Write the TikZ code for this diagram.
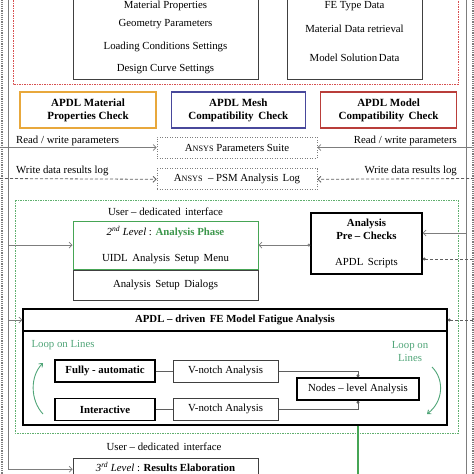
\documentclass[tikz,border=0pt]{standalone}
\usepackage{fontspec}
\setmainfont{Liberation Serif}
\usepackage{tikz}
\usetikzlibrary{arrows.meta,positioning}

\definecolor{gline}{RGB}{125,125,125}
\definecolor{dline}{RGB}{95,95,95}
\definecolor{redd}{RGB}{215,80,80}
\definecolor{gdash}{RGB}{95,175,110}
\definecolor{gbox}{RGB}{70,165,85}
\definecolor{gtext}{RGB}{60,150,75}
\definecolor{gloop}{RGB}{80,165,120}
\definecolor{chkor}{RGB}{232,168,60}
\definecolor{chkbl}{RGB}{72,72,155}
\definecolor{chkrd}{RGB}{185,62,58}

\newcommand{\ansys}{A{\fontsize{8.2}{9}\selectfont NSYS}}

\tikzset{
  block/.style={draw=black!75, line width=0.8pt, rectangle, inner sep=0pt,
    align=center, font=\fontsize{10.8}{12}\selectfont},
  bblock/.style={block, draw=black, line width=1.4pt},
  check/.style={block, line width=1.3pt, minimum height=36,
    font=\bfseries\fontsize{11}{13}\selectfont},
  store/.style={block, draw=gline, line width=0.8pt,
    dash pattern=on 1pt off 1.5pt, minimum width=160, minimum height=21},
  lbl/.style={inner sep=0pt, font=\fontsize{10.8}{12}\selectfont},
  loop/.style={lbl, text=gloop, align=center, font=\fontsize{10.8}{13}\selectfont},
  feed/.style={gline, line width=0.7pt, -{Straight Barb[length=3pt,width=6pt]}},
  dfeed/.style={dline, line width=0.8pt, dash pattern=on 3pt off 2pt,
    -{Straight Barb[length=3pt,width=6pt]}},
  link/.style={dline, line width=0.8pt},
  loopline/.style={gloop, line width=0.9pt, -{Straight Barb[length=3pt,width=5pt]}}
}

\begin{document}
\begin{tikzpicture}[x=1pt,y=-1pt]
  \useasboundingbox (0,0) rectangle (474,474);
  \clip (0,0) rectangle (474,474);

  % Outer frames and buses
  \coordinate (ltop) at (8,-5);
  \coordinate (rtop) at (466,-5);
  \coordinate (rbot) at (466,480);
  \draw[gline, line width=2pt, dash pattern=on 1.2pt off 1pt] (1.5,-5) -- (1.5,480);
  \draw[gline, line width=2pt, dash pattern=on 1.2pt off 1pt] (472.5,-5) -- (472.5,480);
  \draw[gline, line width=0.8pt] (rtop) -- (rbot);

  % Input data
  \draw[redd, line width=0.9pt, dash pattern=on 1.5pt off 1pt] (13,-5) rectangle (458,84);
  \node[block, minimum width=185, minimum height=95, anchor=south] (inp) at (165.5,80) {};
  \node[lbl] (mat) at (165.5,6) {Material Properties};
  \node[lbl] (geo) at (165.5,24) {Geometry Parameters};
  \node[lbl] (lds) at (165.5,46.5) {Loading Conditions Settings};
  \node[lbl] (dcs) at (165.5,69) {Design Curve Settings};
  \node[block, minimum width=135, minimum height=95, anchor=south] (out) at (354.5,80) {};
  \node[lbl] (fet) at (354.5,6) {FE Type Data};
  \node[lbl] (mdr) at (354.5,28.5) {Material Data retrieval};
  \node[lbl] (msd) at (354.5,58) {Model Solution\,Data};

  % Checks
  \node[check, draw=chkor, minimum width=136] (chk1) at (88,110) {APDL Material\\Properties Check};
  \node[check, draw=chkbl, minimum width=134, right=14pt of chk1] (chk2) {APDL Mesh\\Compatibility\, Check};
  \node[check, draw=chkrd, minimum width=136, right=14pt of chk2] (chk3) {APDL Model\\Compatibility\, Check};

  % Ansys files
  \node[store] (par) at (237,147.5) {\ansys\ Parameters Suite};
  \node[store, below=10pt of par] (log) {\ansys\ \ -- PSM Analysis\, Log};
  \coordinate (lin1) at (0,147.5);
  \coordinate (rin1) at (474,147.5);
  \coordinate (lin2) at (0,178.5);
  \coordinate (rin2) at (474,178.5);
  \draw[feed] (lin1) -- (par.west);
  \draw[feed] (rin1) -- (par.east);
  \draw[dfeed] (lin2) -- (log.west);
  \draw[dfeed] (rin2) -- (log.east);
  \node[lbl, anchor=base west] (rw1) at (16,143) {Read / write parameters};
  \node[lbl, anchor=base east] (rw2) at (457,143) {Read / write parameters};
  \node[lbl, anchor=base west] (wd1) at (16,173) {Write data results log};
  \node[lbl, anchor=base east] (wd2) at (457,173) {Write data results log};

  % Analysis phase
  \draw[gdash, line width=0.9pt, dash pattern=on 1.5pt off 1pt] (15,200) rectangle (458,433);
  \node[lbl] (ui1) at (165.5,212) {User -- dedicated\, interface};
  \node[block, minimum width=185, minimum height=30] (dlg) at (165.5,285) {Analysis\, Setup\, Dialogs};
  \node[block, draw=gbox, line width=1pt, minimum width=185, minimum height=48,
    above=0pt of dlg] (lvl2)
    {\textit{2\textsuperscript{nd} Level} : \textcolor{gtext}{\textbf{Analysis Phase}}\\[14pt]UIDL\, Analysis\, Setup\, Menu};
  \node[bblock, minimum width=111, minimum height=61, font=\fontsize{10.8}{13}\selectfont]
    (pre) at (366.5,243.5) {\textbf{Analysis}\\\textbf{Pre -- Checks}\\[13pt]APDL\, Scripts};
  \coordinate (rin3) at (466,233);
  \coordinate (rout1) at (474,259);
  \draw[feed, {Circle[length=3pt]}-{Straight Barb[length=3pt,width=6pt]}] (pre.west |- lvl2.east) -- (lvl2.east);
  \draw[feed] (rin3) -- (rin3 -| pre.east);
  \draw[dfeed, {Circle[length=3pt]}-] (rout1 -| pre.east) -- (rout1);
  \draw[feed] (ltop |- lvl2.west) -- (lvl2.west);

  % Fatigue analysis
  \node[bblock, minimum width=424, minimum height=116] (fe) at (235,367) {};
  \coordinate (hd) at (235,320);
  \coordinate (hl) at (235,331);
  \coordinate (rout2) at (474,320);
  \node[lbl, font=\bfseries\fontsize{10.8}{12}\selectfont] (fehead) at (hd) {APDL -- driven\, FE Model Fatigue Analysis};
  \draw[black, line width=1.4pt] (fe.west |- hl) -- (fe.east |- hl);
  \draw[feed] (ltop |- hd) -- (fe.west |- hd);
  \draw[dfeed, {Circle[length=3pt]}-] (fe.east |- hd) -- (rout2);

  \node[bblock, minimum width=100, minimum height=22, font=\bfseries\fontsize{10.8}{12}\selectfont]
    (fa) at (105,371) {Fully - automatic};
  \node[block, minimum width=105, minimum height=22, right=17pt of fa] (vn1) {V-notch Analysis};
  \node[bblock, minimum width=100, minimum height=22, font=\bfseries\fontsize{10.8}{12}\selectfont,
    below=15pt of fa] (ia) {Interactive};
  \node[block, minimum width=105, minimum height=22, right=17pt of ia] (vn2) {V-notch Analysis};
  \node[bblock, minimum width=122, minimum height=22] (nds) at (358,389) {Nodes -- level Analysis};
  \draw[link] (fa) -- (vn1);
  \draw[link] (ia) -- (vn2);
  \draw[link, -{Circle[length=3pt]}] (vn1.east) -| (nds.north);
  \draw[link, -{Circle[length=3pt]}] (vn2.east) -| (nds.south);

  \node[loop] (loopl) at (63,345) {Loop on Lines};
  \node[loop] (loopr) at (410,351.5) {Loop on\\Lines};
  \coordinate (la1) at (43,414);
  \coordinate (la2) at (43,363);
  \coordinate (ra1) at (432,367);
  \coordinate (ra2) at (427,414);
  \draw[loopline] (la1) .. controls (30,400) and (30,376) .. (la2);
  \draw[loopline] (ra1) .. controls (445,380) and (443,402) .. (ra2);

  % Results elaboration
  \node[lbl] (ui2) at (164,447) {User -- dedicated\, interface};
  \node[block, minimum width=185, anchor=north, text height=7.5pt, text depth=2pt, inner ysep=6pt]
    (lvl3) at (165.5,458) {\textit{3\textsuperscript{rd} Level} : \textbf{Results Elaboration}};
  \draw[feed] (ltop) |- (lvl3.west);
  \coordinate (gout) at (358,480);
  \draw[gbox, line width=1.5pt] (fe.south -| gout) -- (gout);

\end{tikzpicture}
\end{document}
